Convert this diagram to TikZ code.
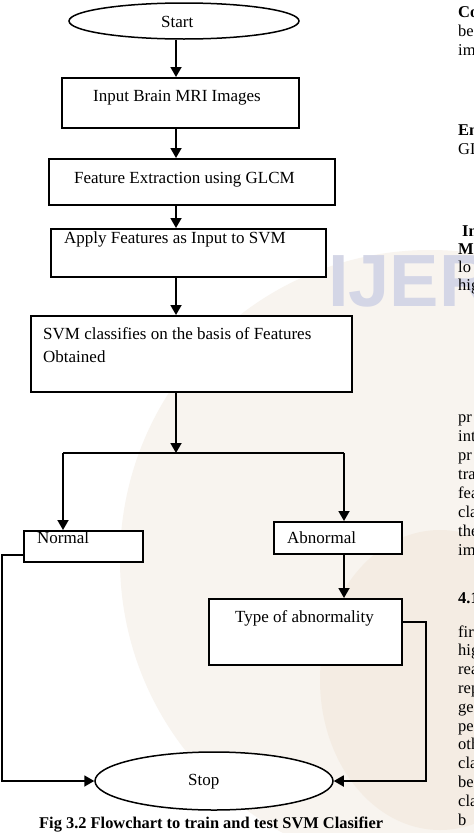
\documentclass[tikz,border=0pt]{standalone}
\usepackage{fontspec}
\setmainfont{Liberation Serif}
\newfontfamily\wmfont{Liberation Sans}
\usetikzlibrary{arrows.meta,shapes.geometric,calc}
\definecolor{globe}{RGB}{248,244,239}
\definecolor{globedark}{RGB}{241,229,216}
\definecolor{wmcol}{RGB}{212,214,230}
\begin{document}
\begin{tikzpicture}[x=1pt,y=-1pt,
  ln/.style={line width=1.8pt},
  arr/.style={ln,-{Triangle[length=10pt,width=11pt]}},
  box/.style={draw,line width=1.8pt,fill=white,inner sep=0pt,anchor=north west},
  ell/.style={draw,ellipse,line width=1.5pt,fill=white,inner sep=0pt},
  txt/.style={inner sep=0pt,anchor=base west,font=\fontsize{17}{19}\selectfont},
  col/.style={inner sep=0pt,anchor=base west,font=\fontsize{16.5}{19}\selectfont}]
\useasboundingbox (0,0) rectangle (474,833);
\clip (0,0) rectangle (474,833);
\fill[white] (0,0) rectangle (474,833);
% faint background globe
\fill[globe] (430,560) circle[radius=310pt];
\fill[globedark,opacity=0.5] (440,680) ellipse[x radius=120pt,y radius=150pt];
\node[inner sep=0pt,anchor=base west,font=\wmfont\bfseries\fontsize{74}{74}\selectfont,text=wmcol] (wm) at (328,306) {IJER};
% boxes
\node[ell,minimum width=230pt,minimum height=36pt] (start) at (184,21) {};
\node[box,minimum width=237pt,minimum height=50pt] (in) at (61,77) {};
\node[box,minimum width=286pt,minimum height=46pt] (fe) at (48,158) {};
\node[box,minimum width=275pt,minimum height=48pt] (ap) at (50,228) {};
\node[box,minimum width=321pt,minimum height=76pt] (svm) at (30,315) {};
\node[box,minimum width=119pt,minimum height=31pt] (normal) at (23,530) {};
\node[box,minimum width=128pt,minimum height=32pt] (abn) at (273,521) {};
\node[box,minimum width=193pt,minimum height=66pt] (type) at (208,598) {};
\node[ell,minimum width=238pt,minimum height=58pt] (stop) at (214,781) {};
% texts
\node[txt] (tstart) at (161,27) {Start};
\node[txt] (tin) at (93,101) {Input Brain MRI Images};
\node[txt] (tfe) at (74,183) {Feature Extraction using GLCM};
\node[txt] (tap) at (64,243) {Apply Features as Input to SVM};
\node[txt] (tsvm1) at (43,339) {SVM classifies on the basis of Features};
\node[txt] (tsvm2) at (43,362) {Obtained};
\node[txt] (tnormal) at (37,543) {Normal};
\node[txt] (tabn) at (287,543) {Abnormal};
\node[txt] (ttype) at (235,622) {Type of abnormality};
\node[txt] (tstop) at (188,785) {Stop};
\node[inner sep=0pt,anchor=base west,font=\bfseries\fontsize{16.4}{19}\selectfont] (cap) at (39,828) {Fig 3.2 Flowchart to train and test SVM Clasifier};
% connectors
\coordinate (spine) at (176,0);
\draw[arr] (start.south -| spine) -- (in.north -| spine);
\draw[arr] (in.south -| spine) -- (fe.north -| spine);
\draw[arr] (fe.south -| spine) -- (ap.north -| spine);
\draw[arr] (ap.south -| spine) -- (svm.north -| spine);
\coordinate (jn) at (176,453);
\coordinate (jl) at (63,453);
\coordinate (jr) at (344,453);
\draw[arr] (svm.south -| spine) -- (jn);
\draw[ln] (jl) -- (jr);
\draw[arr] (jl) -- (normal.north -| jl);
\draw[arr] (jr) -- (abn.north -| jr);
\draw[arr] (abn.south -| jr) -- (type.north -| jr);
\coordinate (rr) at (426,622);
\coordinate (ll) at (2,555);
\draw[arr] (type.east |- rr) -- (rr) |- (stop.east);
\draw[arr] (normal.west |- ll) -- (ll) |- (stop.west);
% clipped page text on the right
\node[col] (r1) at (458,17) {\textbf{Con}};
\node[col] (r2) at (458,36) {be};
\node[col] (r3) at (458,55) {im};
\node[col] (r4) at (458,135) {\textbf{En}};
\node[col] (r5) at (458,154) {GL};
\node[col] (r6) at (462,236) {\textbf{In}};
\node[col] (r7) at (458,254) {\textbf{M}};
\node[col] (r8) at (458,272) {lo};
\node[col] (r9) at (458,290) {hig};
\foreach \t [count=\i] in {pr,int,pr,tra,fea,cla,the,im}
  \node[col] (p\i) at (458,{422+19*(\i-1)}) {\t};
\node[col] (s41) at (458,603) {\textbf{4.1}};
\foreach \t [count=\i] in {fir,hig,rea,rep,ge,pe,oth,cla,be,cla,b}
  \node[col] (q\i) at (458,{637+18.8*(\i-1)}) {\t};
\end{tikzpicture}
\end{document}
